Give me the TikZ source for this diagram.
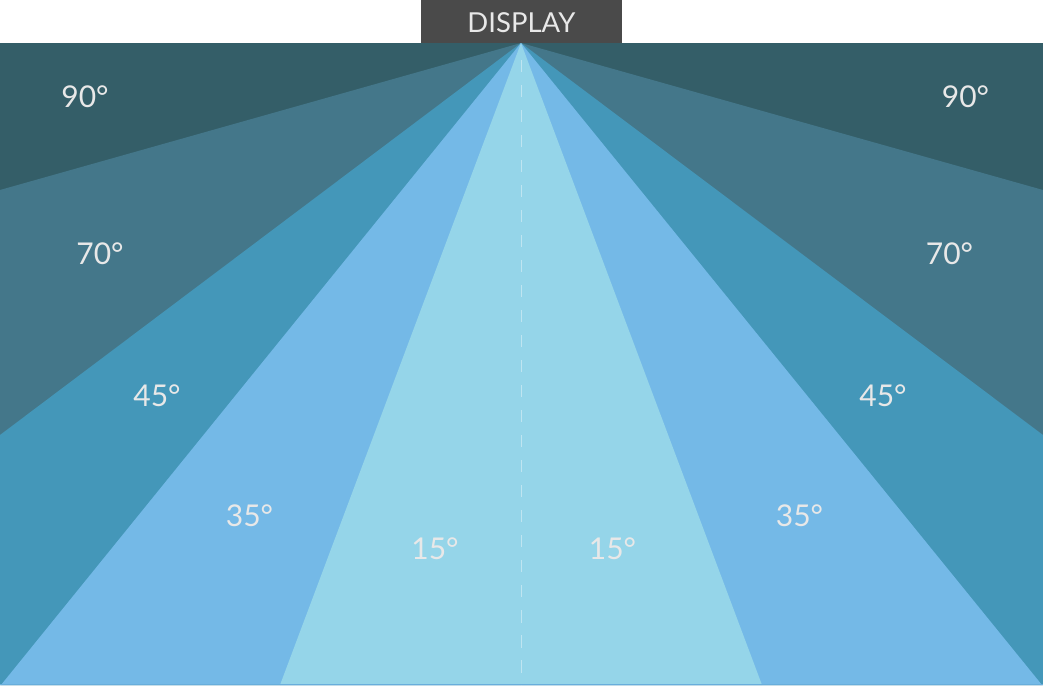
\documentclass[tikz,border=0pt]{standalone}
\usepackage{fontspec}
\setmainfont{Lato}
\definecolor{c90}{HTML}{345E68}
\definecolor{c70}{HTML}{44778A}
\definecolor{c45}{HTML}{4497B9}
\definecolor{c35}{HTML}{74B9E7}
\definecolor{c15}{HTML}{95D5E9}
\definecolor{cdisp}{HTML}{4A4A4A}
\definecolor{ctext}{HTML}{E8E8E8}
\definecolor{cbottom}{HTML}{68AEDC}
\begin{document}
\begin{tikzpicture}[x=1pt,y=1pt,
  deg/.style={text=ctext,font=\fontsize{30}{30}\selectfont,inner sep=0pt},
  sector/.style={draw=none}]
\useasboundingbox (0,0) rectangle (1043,685);
\fill[white] (0,0) rectangle (1043,685);
\coordinate (apex) at (521,642);
% sectors
\fill[c90] (0,0) rectangle (1043,642);
\fill[c70] (apex) -- (0,495) -- (0,0) -- (1043,0) -- (1043,495) -- cycle;
\fill[c45] (apex) -- (0,250) -- (0,0) -- (1043,0) -- (1043,250) -- cycle;
\fill[c35] (apex) -- (1,0) -- (1042,0) -- cycle;
\fill[c15] (apex) -- (280,0) -- (762,0) -- cycle;
\draw[cbottom,line width=1pt] (0,0.5) -- (1043,0.5);
% centre dashed line
\coordinate (dtop) at (521,625);
\coordinate (dbot) at (521,0);
\draw[white,opacity=0.4,line width=1pt,dash pattern=on 12.5pt off 12.5pt] (dtop) -- (dbot);
% display box
\node[fill=cdisp,minimum width=201pt,minimum height=43pt,inner sep=0pt,anchor=south west] (disp) at (421,642) {};
\node[text=ctext,font=\fontsize{27.5}{27.5}\selectfont,inner sep=0pt] (disptext) at (521.5,662) {DISPLAY};
% labels
\node[deg] (l90) at (85,588) {90°};
\node[deg] (l70) at (100,431) {70°};
\node[deg] (l45) at (157,289) {45°};
\node[deg] (l35) at (249.5,169) {35°};
\node[deg] (l15) at (435,136) {15°};
\node[deg] (r15) at (612.5,136) {15°};
\node[deg] (r35) at (799.5,169) {35°};
\node[deg] (r45) at (883,289) {45°};
\node[deg] (r70) at (949.5,431) {70°};
\node[deg] (r90) at (965.5,588) {90°};
\end{tikzpicture}
\end{document}
